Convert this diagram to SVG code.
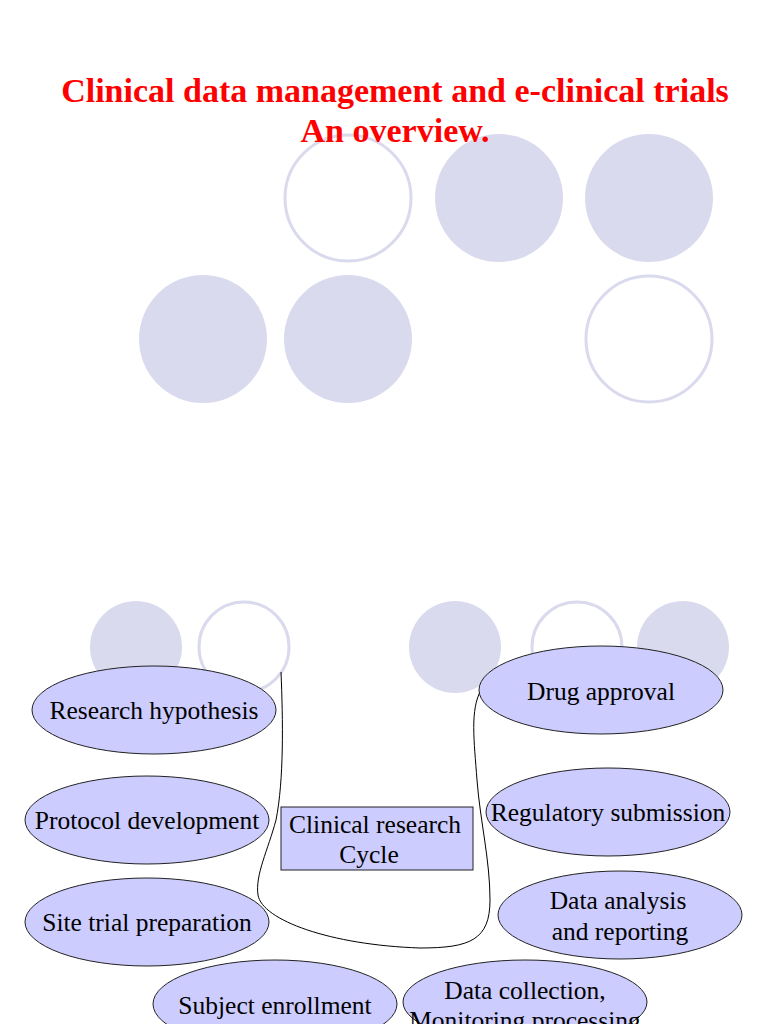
<svg xmlns="http://www.w3.org/2000/svg" width="768" height="1024" viewBox="0 0 768 1024">
<style>
.f{fill:#dadaee;stroke:none}
.o{fill:#fff;stroke:#dadaee;stroke-width:3}
.n{fill:#ccccff;stroke:#222;stroke-width:1}
.t{font-family:"Liberation Serif",serif;font-size:25.5px;fill:#000;text-anchor:middle}
.h{font-family:"Liberation Serif",serif;font-size:34px;font-weight:bold;fill:#ff0000;text-anchor:middle}
</style>
<rect width="768" height="1024" fill="#fff"/>
<circle class="o" cx="348" cy="198" r="63"/>
<circle class="f" cx="499" cy="198" r="64"/>
<circle class="f" cx="649" cy="198" r="64"/>
<circle class="f" cx="203" cy="339" r="64"/>
<circle class="f" cx="348" cy="339" r="64"/>
<circle class="o" cx="649" cy="339" r="63"/>
<circle class="f" cx="136" cy="647" r="46"/>
<circle class="o" cx="244" cy="647" r="45"/>
<circle class="f" cx="455" cy="647" r="46"/>
<circle class="o" cx="577" cy="647" r="45"/>
<circle class="f" cx="683" cy="647" r="46"/>
<text class="h" x="395" y="102">Clinical data management and e-clinical trials</text>
<text class="h" x="395" y="142">An overview.</text>
<g id="connectors">
<path d="M281,672 C283,720 284,780 276,820 C268,850 255,875 258,895 C262,920 330,945 420,948 C470,948 490,940 490,900 C490,860 480,820 477,780 C474,740 470,710 481,690" fill="none" stroke="#000" stroke-width="1"/>
</g>
<g id="center"><rect class="n" x="281" y="807" width="192" height="63"/><text class="t" x="375" y="833">Clinical research</text><text class="t" x="369" y="863">Cycle</text></g>
<g id="n1"><ellipse class="n" cx="154" cy="710" rx="122" ry="44"/><text class="t" x="154" y="719">Research hypothesis</text></g>
<g id="n2"><ellipse class="n" cx="147" cy="820" rx="122" ry="44"/><text class="t" x="147" y="829">Protocol development</text></g>
<g id="n3"><ellipse class="n" cx="147" cy="922" rx="122" ry="44"/><text class="t" x="147" y="931">Site trial preparation</text></g>
<g id="n4"><ellipse class="n" cx="275" cy="1004" rx="122" ry="44"/><text class="t" x="275" y="1014">Subject enrollment</text></g>
<g id="n5"><ellipse class="n" cx="525" cy="1002" rx="122" ry="42"/><text class="t" x="525" y="999">Data collection,</text><text class="t" x="525" y="1029">Monitoring processing</text></g>
<g id="n6"><ellipse class="n" cx="620" cy="915" rx="122" ry="44"/><text class="t" x="618" y="909">Data analysis</text><text class="t" x="620" y="940">and reporting</text></g>
<g id="n7"><ellipse class="n" cx="608" cy="812" rx="122" ry="44"/><text class="t" x="608" y="821">Regulatory submission</text></g>
<g id="n8"><ellipse class="n" cx="601" cy="690" rx="122" ry="44"/><text class="t" x="601" y="700">Drug approval</text></g>
</svg>
